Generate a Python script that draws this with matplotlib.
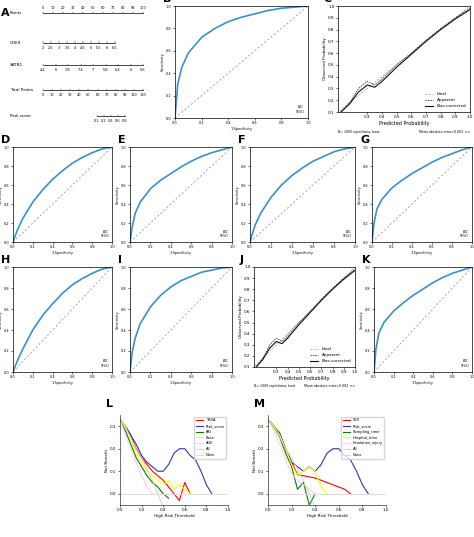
import matplotlib
matplotlib.use("Agg")
import matplotlib.pyplot as plt
import numpy as np

W, H = 474, 537
fig = plt.figure(figsize=(W/100, H/100), dpi=100)

def ax_px(x0, y0, x1, y1):
    return fig.add_axes([x0/W, 1-y1/H, (x1-x0)/W, (y1-y0)/H])

fpr = [0, 0.02, 0.05, 0.1, 0.2, 0.3, 0.4, 0.5, 0.6, 0.7, 0.8, 0.9, 1]
roc_B = [0, 0.3, 0.45, 0.58, 0.72, 0.8, 0.86, 0.9, 0.93, 0.96, 0.98, 0.99, 1]
roc_D = [0, 0.06, 0.14, 0.25, 0.42, 0.55, 0.66, 0.75, 0.83, 0.89, 0.94, 0.98, 1]
roc_E = [0, 0.15, 0.3, 0.42, 0.56, 0.65, 0.72, 0.79, 0.85, 0.9, 0.94, 0.97, 1]
roc_F = [0, 0.08, 0.18, 0.3, 0.47, 0.6, 0.7, 0.78, 0.85, 0.9, 0.95, 0.98, 1]
roc_G = [0, 0.2, 0.35, 0.45, 0.57, 0.65, 0.72, 0.78, 0.84, 0.89, 0.93, 0.97, 1]
roc_H = [0, 0.05, 0.12, 0.22, 0.4, 0.54, 0.65, 0.75, 0.83, 0.89, 0.94, 0.98, 1]
roc_I = [0, 0.18, 0.32, 0.46, 0.62, 0.73, 0.81, 0.87, 0.91, 0.95, 0.97, 0.99, 1]
roc_K = [0, 0.22, 0.37, 0.47, 0.58, 0.66, 0.73, 0.79, 0.85, 0.9, 0.94, 0.97, 1]

cal_x = [0.12, 0.18, 0.24, 0.3, 0.35, 0.4, 0.5, 0.6, 0.7, 0.8, 0.9, 1.0]
cal_app = [0.1, 0.18, 0.3, 0.36, 0.33, 0.38, 0.5, 0.6, 0.71, 0.81, 0.9, 0.98]
cal_bias = [0.1, 0.17, 0.27, 0.33, 0.31, 0.36, 0.48, 0.59, 0.7, 0.8, 0.89, 0.97]

blue = "#3a8fd0"
tiny = 2.5

def roc(box, tpr, label):
    ax = ax_px(*box)
    ax.plot(fpr, tpr, color=blue, lw=1.2)
    ax.plot([0, 1], [0, 1], color="#888888", lw=0.5, ls=(0, (3, 3)))
    ax.set_xlim(0, 1); ax.set_ylim(0, 1)
    ax.tick_params(labelsize=tiny, length=1.5, width=0.4, pad=1)
    ax.set_xticks([0, .2, .4, .6, .8, 1]); ax.set_yticks([0, .2, .4, .6, .8, 1])
    ax.set_xlabel("1-Specificity", fontsize=tiny, labelpad=1)
    ax.set_ylabel("Sensitivity", fontsize=tiny, labelpad=1)
    ax.text(0.97, 0.04, "AUC\n95%CI", fontsize=2, ha="right", va="bottom", transform=ax.transAxes)
    for s in ax.spines.values(): s.set_linewidth(0.5)
    fig.text(max(box[0]/W - 0.025, 0.002), 1-(box[1]-2)/H, label, fontsize=8, fontweight="bold", ha="left", va="bottom")
    return ax

def cal(box, label):
    ax = ax_px(*box)
    ax.plot([0, 1], [0, 1], color="#999999", lw=0.5, ls=(0, (3, 2)))
    ax.plot(cal_x, cal_app, color="#444444", lw=0.6, ls=(0, (2, 1)))
    ax.plot(cal_x, cal_bias, color="#111111", lw=0.8)
    ax.set_xlim(0.1, 1.0); ax.set_ylim(0.1, 1.0)
    ax.set_xticks([0.3, 0.4, 0.5, 0.6, 0.7, 0.8, 0.9, 1.0])
    ax.tick_params(labelsize=3, length=1.5, width=0.4, pad=1)
    ax.set_xlabel("Predicted Probability", fontsize=3.5, labelpad=1)
    ax.set_ylabel("Observed Probability", fontsize=3, labelpad=1)
    ax.legend(["Ideal", "Apparent", "Bias-corrected"], fontsize=3, loc="lower right", frameon=False)
    for s in ax.spines.values(): s.set_linewidth(0.5)
    ax.text(0, -0.2, "B= 1000 repetitions, boot", fontsize=2.3, transform=ax.transAxes)
    ax.text(1, -0.2, "Mean absolute error=0.002  n=", fontsize=2.3, ha="right", transform=ax.transAxes)
    fig.text(box[0]/W - 0.03, 1-(box[1]-2)/H, label, fontsize=8, fontweight="bold", ha="left", va="bottom")

# ---- A nomogram
fig.text(0.003, 0.985, "A", fontsize=8, fontweight="bold", va="top")
nom_rows = ["Points", "CD69", "SATB1", "Total Points", "Risk score"]
nom_ticks = [
    ["0", "10", "20", "30", "40", "50", "60", "70", "80", "90", "100"],
    ["2", "2.5", "3", "3.5", "4", "4.5", "5", "5.5", "6", "6.5"],
    ["4.4", "6", "7.8", "7.4", "7", "5.8", "6.4", "6", "5.6"],
    ["0", "10", "20", "30", "40", "50", "60", "70", "80", "90", "110", "130"],
    ["0.1", "0.2", "0.4", "0.6", "0.8"],
]
nom_span = [(43, 143), (43, 115), (43, 143), (43, 143), (97, 125)]
nom_y = [13, 43, 65, 90, 116]
for name, ticks, (x0, x1), y in zip(nom_rows, nom_ticks, nom_span, nom_y):
    fig.text(10/W, 1-y/H, name, fontsize=3, va="center")
    fig.add_artist(plt.Line2D([x0/W, x1/W], [1-y/H, 1-y/H], color="k", lw=0.5))
    xs = np.linspace(x0, x1, len(ticks))
    for xx, t in zip(xs, ticks):
        fig.add_artist(plt.Line2D([xx/W, xx/W], [1-y/H, 1-(y-1.5)/H], color="k", lw=0.3))
        dy = -5 if name == "Points" else 5
        fig.text(xx/W, 1-(y+dy)/H, t, fontsize=2.5, ha="center", va="center")

# ---- B
roc((175, 6, 308, 118), roc_B, "B")
# ---- C
cal((338, 6, 470, 112), "C")

# ---- row 2
roc((13, 147, 112, 242), roc_D, "D")
roc((130, 147, 232, 242), roc_E, "E")
roc((250, 147, 355, 242), roc_F, "F")
roc((372, 147, 472, 242), roc_G, "G")
# ---- row 3
roc((13, 267, 112, 372), roc_H, "H")
roc((130, 267, 232, 372), roc_I, "I")
cal((254, 267, 355, 367), "J")
roc((374, 267, 472, 372), roc_K, "K")

# ---- DCA
thr = [0.0, 0.05, 0.1, 0.15, 0.2, 0.25, 0.3, 0.35, 0.4, 0.45, 0.5, 0.55, 0.6, 0.65, 0.7, 0.75, 0.8, 0.85]
L_series = {
    "TBSA": ([0.33, 0.3, 0.26, 0.2, 0.16, 0.13, 0.1, 0.08, 0.06, 0.03, 0.0, -0.03, 0.05, 0.0, None, None, None, None], "red"),
    "Risk_score": ([0.33, 0.3, 0.26, 0.22, 0.17, 0.14, 0.12, 0.1, 0.1, 0.13, 0.18, 0.2, 0.2, 0.17, 0.15, 0.1, 0.04, 0.0], "#3333aa"),
    "AKI": ([0.33, 0.28, 0.22, 0.16, 0.12, 0.08, 0.05, 0.03, 0.0, -0.02, None, None, None, None, None, None, None, None], "green"),
    "Base": ([0.33, 0.3, 0.24, 0.18, 0.14, 0.1, 0.08, 0.06, 0.04, 0.06, 0.02, 0.04, 0.02, 0.0, None, None, None, None], "yellow"),
    "AGE": ([0.33, 0.26, 0.2, 0.14, 0.08, 0.03, 0.0, None, None, None, None, None, None, None, None, None, None, None], "#ffccee"),
}
L_all = [0.33, 0.29, 0.25, 0.2, 0.16, 0.11, 0.06, 0.0, -0.06, -0.13, None, None, None, None, None, None, None, None]
M_series = {
    "SEX": ([0.33, 0.3, 0.26, 0.2, 0.14, 0.085, 0.08, 0.075, 0.07, 0.06, 0.05, 0.04, 0.03, 0.02, 0.0, None, None, None], "red"),
    "Risk_score": ([0.33, 0.3, 0.27, 0.2, 0.14, 0.12, 0.1, 0.12, 0.1, 0.13, 0.18, 0.2, 0.2, 0.17, 0.15, 0.1, 0.04, 0.0], "#3333aa"),
    "Sampling_time": ([0.33, 0.3, 0.25, 0.18, 0.12, 0.02, 0.05, -0.05, 0.0, None, None, None, None, None, None, None, None, None], "green"),
    "Hospital_time": ([0.33, 0.3, 0.26, 0.2, 0.13, 0.08, 0.1, 0.12, 0.1, 0.03, 0.0, None, None, None, None, None, None, None], "yellow"),
    "Inhalation_injury": ([0.33, 0.28, 0.22, 0.15, 0.09, 0.06, 0.04, 0.02, 0.0, None, None, None, None, None, None, None, None, None], "#ffccee"),
}
M_all = L_all

def dca(box, series, allv, label):
    ax = ax_px(*box)
    for name, (vals, c) in series.items():
        y = np.array([np.nan if v is None else v for v in vals], float)
        ax.plot(thr, y, color=c, lw=0.8, label=name)
    ya = np.array([np.nan if v is None else v for v in allv], float)
    ax.plot(thr, ya, color="#cccccc", lw=0.6, label="All")
    ax.axhline(0, color="#dddddd", lw=0.8, label="None")
    ax.set_xlim(0, 1); ax.set_ylim(-0.05, 0.35)
    ax.set_xticks([0, .2, .4, .6, .8, 1]); ax.set_yticks([0, .1, .2, .3])
    ax.tick_params(labelsize=3, length=1.5, width=0.4, pad=1)
    ax.set_xlabel("High Risk Threshold", fontsize=3, labelpad=1)
    ax.set_ylabel("Net Benefit", fontsize=3, labelpad=1)
    for s in ["top", "right"]: ax.spines[s].set_visible(False)
    for s in ["left", "bottom"]: ax.spines[s].set_linewidth(0.4)
    ax.legend(fontsize=2.6, loc="upper right", handlelength=2, borderpad=0.4)
    fig.text(box[0]/W - 0.03, 1-(box[1]-6)/H, label, fontsize=8, fontweight="bold", ha="left", va="bottom")

dca((120, 415, 228, 505), L_series, L_all, "L")
dca((268, 415, 386, 505), M_series, M_all, "M")

fig.savefig("out.png", dpi=100)
